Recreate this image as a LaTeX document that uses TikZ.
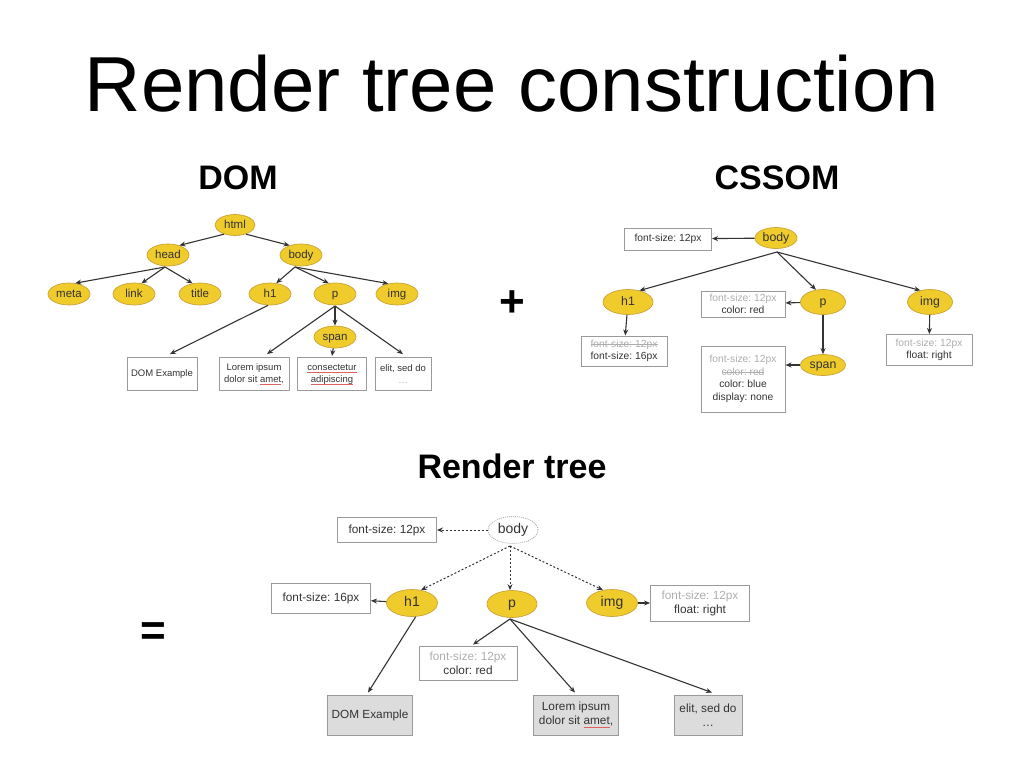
\documentclass[tikz,border=0pt]{standalone}
\usepackage{fontspec}
\setmainfont{Liberation Sans}
\usetikzlibrary{shapes.geometric,arrows.meta,calc}
\definecolor{yelC}{HTML}{EFCB2B}
\definecolor{yelB}{HTML}{C9A43A}
\definecolor{txtC}{HTML}{333333}
\definecolor{lgC}{HTML}{ADADAD}
\definecolor{bxC}{HTML}{9A9A9A}
\definecolor{grayF}{HTML}{DCDCDC}
\definecolor{arC}{HTML}{333333}
\definecolor{wavC}{HTML}{E06060}
\frenchspacing
\newsavebox\mystrikebox
\newcommand{\redwave}[1]{\sbox\mystrikebox{#1}\rlap{\textcolor{wavC}{\rule[-0.22em]{\wd\mystrikebox}{0.45pt}}}\usebox\mystrikebox}
\newcommand{\grey}[1]{\textcolor{lgC}{#1}}
\newcommand{\greystrike}[1]{{\color{lgC}\sbox\mystrikebox{#1}\rlap{\rule[0.33em]{\wd\mystrikebox}{0.5pt}}\usebox\mystrikebox}}
\tikzset{
  yel/.style={ellipse, fill=yelC, draw=yelB, line width=0.7pt, inner sep=0pt,
    minimum width=42pt, minimum height=22pt, text=txtC, text height=0.75em, text depth=0.05em,
    font=\fontsize{11.5}{13}\selectfont},
  cyel/.style={yel, font=\fontsize{12.3}{14}\selectfont},
  ryel/.style={yel, font=\fontsize{14}{16}\selectfont},
  bx/.style={rectangle, draw=bxC, line width=0.9pt, inner sep=0pt, align=center,
    text=txtC, font=\fontsize{9.5}{12}\selectfont},
  cbx/.style={bx, font=\fontsize{10.3}{12.5}\selectfont},
  rbx/.style={bx, font=\fontsize{11.8}{14}\selectfont},
  gbx/.style={rbx, fill=grayF},
  arr/.style={draw=arC, line width=1.1pt, -{Stealth[length=6pt,width=5pt]}},
  darr/.style={arr, line width=1pt, dash pattern=on 2pt off 2pt},
  head/.style={font=\bfseries\fontsize{34}{40}\selectfont},
}
\begin{document}
\begin{tikzpicture}[x=1pt,y=-1pt]
\useasboundingbox (0,0) rectangle (1024,768);
% titles
\node (title) at (512,84) {\fontsize{78}{90}\selectfont Render tree construction};
\node[head] (tdom) at (238,178) {DOM};
\node[head] (tcss) at (777,178) {CSSOM};
\node[head] (trend) at (512,466) {Render tree};
\node[font=\bfseries\fontsize{44}{50}\selectfont] (plus) at (512,304) {+};
\node[font=\bfseries\fontsize{44}{50}\selectfont] (eq) at (153,634) {=};

% ---------------- DOM ----------------
\node[yel, minimum width=40pt, minimum height=21pt] (d-html) at (235,225) {html};
\node[yel] (d-head) at (168,255) {head};
\node[yel] (d-body) at (301,255) {body};
\node[yel] (d-meta) at (69,294) {meta};
\node[yel] (d-link) at (134,294) {link};
\node[yel] (d-title) at (200,294) {title};
\node[yel] (d-h1) at (270,294) {h1};
\node[yel] (d-p) at (335,294) {p};
\node[yel] (d-img) at (397,294) {img};
\node[yel] (d-span) at (335,337) {span};
\node[bx, minimum width=70pt, minimum height=33pt] (d-domex) at (162,374) {DOM Example};
\node[bx, minimum width=70pt, minimum height=33pt] (d-lorem) at (254,374) {Lorem ipsum\\dolor sit \redwave{amet},};
\node[bx, minimum width=69pt, minimum height=33pt] (d-cons) at (332,374) {\redwave{consectetur}\\\redwave{adipiscing}};
\node[bx, minimum width=56pt, minimum height=33pt] (d-elit) at (403,374) {elit, sed do\\\grey{…}};
\coordinate (d-hb) at (165,267);
\coordinate (d-bb) at (295,267);
\coordinate (d-pb) at (335,306);
\draw[arr] (d-html.-140) -- (d-head.40);
\draw[arr] (d-html.-40) -- (d-body.140);
\draw[arr] (d-hb) -- (d-meta.60);
\draw[arr] (d-hb) -- (d-link.55);
\draw[arr] (d-hb) -- (d-title.125);
\draw[arr] (d-bb) -- (d-h1.60);
\draw[arr] (d-bb) -- (d-p.120);
\draw[arr] (d-bb) -- (d-img.130);
\draw[arr] (d-h1.-100) -- ($(d-domex.north)+(8,-3)$);
\draw[arr] (d-pb) -- ($(d-lorem.north)+(13,-3)$);
\draw[arr] (d-pb) -- (d-span);
\draw[arr] (d-pb) -- ($(d-elit.north)+(0,-3)$);
\draw[arr] (d-span) -- ($(d-cons.north)+(0,-1)$);

% ---------------- CSSOM ----------------
\node[cyel, minimum width=42pt, minimum height=21pt] (c-body) at (776,238) {body};
\node[cbx, minimum width=87pt, minimum height=22pt] (c-fs) at (668,239) {font-size: 12px};
\node[cyel, minimum width=50pt, minimum height=25pt] (c-h1) at (628,302) {h1};
\node[cyel, minimum width=45pt, minimum height=25pt] (c-p) at (823,302) {p};
\node[cyel, minimum width=45pt, minimum height=25pt] (c-img) at (930,302) {img};
\node[cyel, minimum width=45pt, minimum height=21pt] (c-span) at (823,365) {span};
\node[cbx, minimum width=86pt, minimum height=30pt] (c-h1b) at (624,351) {\greystrike{font-size: 12px}\\font-size: 16px};
\node[cbx, minimum width=84pt, minimum height=26pt] (c-pb) at (743,304) {\grey{font-size: 12px}\\color: red};
\node[cbx, minimum width=84pt, minimum height=66pt] (c-spb) at (743,379) {\grey{font-size: 12px}\\\greystrike{color: red}\\color: blue\\display: none};
\node[cbx, minimum width=86pt, minimum height=31pt] (c-imgb) at (929,350) {\grey{font-size: 12px}\\float: right};
\coordinate (c-bb) at (777,252);
\draw[arr] (c-body) -- (c-fs);
\draw[arr] (c-bb) -- (c-h1.45);
\draw[arr] (c-bb) -- (c-p.120);
\draw[arr] (c-bb) -- (c-img.130);
\draw[arr] (c-h1) -- (c-h1b);
\draw[arr] (c-p) -- (c-pb);
\draw[arr] (c-p) -- (c-span);
\draw[arr] (c-span) -- (c-spb.east |- c-span);
\draw[arr] (c-img) -- (c-imgb);

% ---------------- Render tree ----------------
\node[ellipse, draw=lgC, dash pattern=on 1pt off 1pt, line width=0.8pt, fill=white, inner sep=0pt,
  minimum width=50pt, minimum height=27pt, text=txtC, text height=0.75em, text depth=0.05em,
  font=\fontsize{14}{16}\selectfont] (r-body) at (513,530) {body};
\node[rbx, minimum width=99pt, minimum height=25pt] (r-fs) at (387,530) {font-size: 12px};
\node[ryel, minimum width=51pt, minimum height=27pt] (r-h1) at (412,603) {h1};
\node[ryel, minimum width=50pt, minimum height=27pt] (r-p) at (512,604) {p};
\node[ryel, minimum width=51pt, minimum height=27pt] (r-img) at (612,603) {img};
\node[rbx, minimum width=99pt, minimum height=30pt] (r-b16) at (321,598) {font-size: 16px};
\node[rbx, minimum width=99pt, minimum height=36pt] (r-imgb) at (700,603) {\grey{font-size: 12px}\\float: right};
\node[rbx, minimum width=98pt, minimum height=34pt] (r-pb) at (468,663) {\grey{font-size: 12px}\\color: red};
\node[gbx, minimum width=85pt, minimum height=40pt] (r-domex) at (370,715) {DOM Example};
\node[gbx, minimum width=85pt, minimum height=40pt] (r-lorem) at (576,715) {Lorem ipsum\\dolor sit \redwave{amet},};
\node[gbx, minimum width=68pt, minimum height=40pt] (r-elit) at (708,715) {elit, sed do\\…};
\coordinate (r-bb) at (510,546);
\coordinate (r-pbt) at (510,619);
\draw[darr] (r-body) -- (r-fs);
\draw[darr] (r-bb) -- (r-h1.55);
\draw[darr] (r-bb) -- (r-p.north -| r-bb);
\draw[darr] (r-bb) -- (r-img.125);
\draw[arr] (r-h1) -- (r-b16);
\draw[arr] (r-img) -- (r-imgb);
\draw[arr] (r-h1.-75) -- ($(r-domex.north)+(-2,-2)$);
\draw[arr] (r-pbt) -- ($(r-pb.north)+(5,-1)$);
\draw[arr] (r-pbt) -- ($(r-lorem.north)+(-1,-2)$);
\draw[arr] (r-pbt) -- ($(r-elit.north)+(4,-2)$);
\end{tikzpicture}
\end{document}
